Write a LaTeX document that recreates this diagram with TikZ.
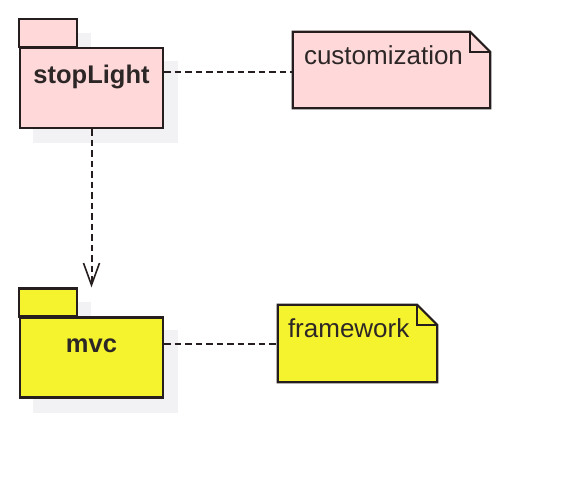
\documentclass[tikz,border=0pt]{standalone}
\usepackage{fontspec}
\setmainfont{Liberation Sans}
\usetikzlibrary{arrows.meta,backgrounds}
\definecolor{pinkfill}{RGB}{255,217,217}
\definecolor{yelfill}{RGB}{245,242,46}
\definecolor{edge}{RGB}{38,30,30}
\definecolor{shadowgray}{RGB}{242,242,244}
\definecolor{txt}{RGB}{45,38,38}
\begin{document}
\begin{tikzpicture}[x=1pt,y=-1pt,
  pkgbody/.style={rectangle, draw=edge, line width=2.2pt, minimum width=143pt, minimum height=80pt, inner sep=0pt},
  pkgtab/.style={draw=edge, line width=2.2pt},
  pkglabel/.style={anchor=base, inner sep=0pt, text=txt, font=\bfseries\fontsize{25.5}{25.5}\selectfont},
  notebox/.style={rectangle, inner sep=0pt},
  noteedge/.style={draw=edge, line width=2.2pt, line join=miter},
  notelabel/.style={anchor=base west, inner sep=0pt, text=txt, font=\fontsize{26}{26}\selectfont},
  conn/.style={draw=edge, line width=2pt, dash pattern=on 6.5pt off 4pt},
  shadowbox/.style={fill=shadowgray}
]
\useasboundingbox (0,0) rectangle (572,478);

% stopLight package
\node[pkgbody, fill=pinkfill] (sl) at (91.5,88) {};
\node[pkglabel] (sllabel) at ([yshift=-37pt]sl.north) {stopLight};
\draw[pkgtab, fill=pinkfill] (sl.north west) rectangle ([xshift=58pt,yshift=28pt]sl.north west);

% mvc package
\node[pkgbody, fill=yelfill] (mvc) at (91.5,357.5) {};
\node[pkglabel] (mvclabel) at ([yshift=-36pt]mvc.north) {mvc};
\draw[pkgtab, fill=yelfill] (mvc.north west) rectangle ([xshift=58pt,yshift=28pt]mvc.north west);

% customization note
\node[notebox, minimum width=197pt, minimum height=76pt] (cust) at (391.5,70) {};
\draw[noteedge, fill=pinkfill] (cust.north west) -- ([xshift=-20pt]cust.north east) -- ([yshift=-20pt]cust.north east) -- (cust.south east) -- (cust.south west) -- cycle;
\draw[noteedge] ([xshift=-20pt]cust.north east) |- ([yshift=-20pt]cust.north east);
\node[notelabel] (custlabel) at ([xshift=11pt,yshift=-33pt]cust.north west) {customization};

% framework note
\node[notebox, minimum width=159pt, minimum height=77pt] (fw) at (357.5,343.5) {};
\draw[noteedge, fill=yelfill] (fw.north west) -- ([xshift=-20pt]fw.north east) -- ([yshift=-20pt]fw.north east) -- (fw.south east) -- (fw.south west) -- cycle;
\draw[noteedge] ([xshift=-20pt]fw.north east) |- ([yshift=-20pt]fw.north east);
\node[notelabel] (fwlabel) at ([xshift=10pt,yshift=-33pt]fw.north west) {framework};

% background and shadows
\begin{scope}[on background layer]
  \fill[white] (0,0) rectangle (572,478);
  \fill[shadowbox] ([xshift=14pt,yshift=-14pt]sl.south west) rectangle ([xshift=14pt,yshift=-14pt]sl.north east);
  \fill[shadowbox] ([xshift=14pt,yshift=-14pt]sl.north west) rectangle ([xshift=72pt,yshift=14pt]sl.north west);
  \fill[shadowbox] ([xshift=14pt,yshift=-14pt]mvc.south west) rectangle ([xshift=14pt,yshift=-14pt]mvc.north east);
  \fill[shadowbox] ([xshift=14pt,yshift=-14pt]mvc.north west) rectangle ([xshift=72pt,yshift=14pt]mvc.north west);
\end{scope}

% connectors
\draw[conn] ([yshift=-2.5pt]sl.east |- cust.west) -- ([yshift=-2.5pt]cust.west);
\draw[conn] (mvc.east |- fw.west) -- (fw.west);
\draw[conn, -{Straight Barb[length=22pt,width=16pt,line width=1.6pt]}] (sl.south) -- ([yshift=29pt]mvc.north);
\end{tikzpicture}
\end{document}
